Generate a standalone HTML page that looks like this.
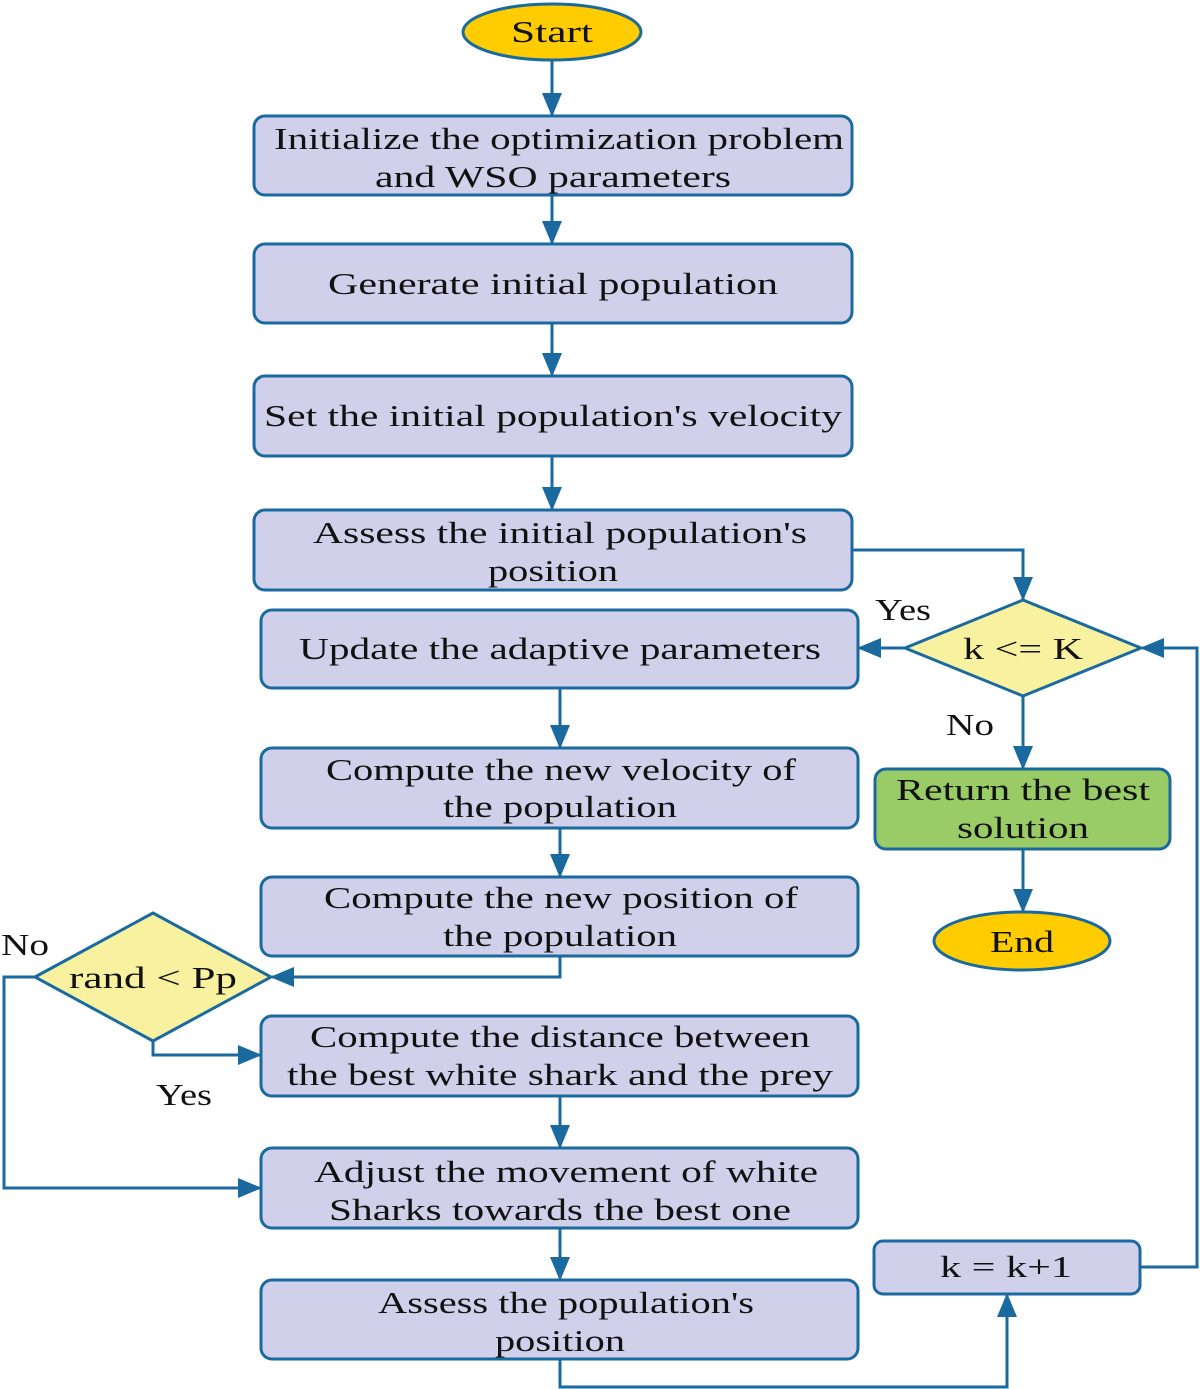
<!DOCTYPE html>
<html><head><meta charset="utf-8"><style>
html,body{margin:0;padding:0;background:#fff;}
svg{display:block;}
text{font-family:"Liberation Serif",serif;font-size:31px;fill:#111;}
</style></head><body>
<svg width="1200" height="1389" viewBox="0 0 1200 1389" xmlns="http://www.w3.org/2000/svg">
<defs>
<marker id="a" markerWidth="24" markerHeight="20" refX="22" refY="10" orient="auto" markerUnits="userSpaceOnUse">
<path d="M0,0 L24,10 L0,20 Z" fill="#1a6aa0"/>
</marker>
</defs>
<g fill="none" stroke="#1a6aa0" stroke-width="3">
<line x1="552" y1="60" x2="552" y2="115" marker-end="url(#a)"/>
<line x1="552" y1="195" x2="552" y2="243" marker-end="url(#a)"/>
<line x1="552" y1="323" x2="552" y2="375" marker-end="url(#a)"/>
<line x1="552" y1="456" x2="552" y2="509" marker-end="url(#a)"/>
<polyline points="852,550 1023,550 1023,599" marker-end="url(#a)"/>
<line x1="905" y1="648" x2="859" y2="648" marker-end="url(#a)"/>
<line x1="1023" y1="696" x2="1023" y2="768" marker-end="url(#a)"/>
<line x1="1023" y1="849" x2="1023" y2="911" marker-end="url(#a)"/>
<line x1="560" y1="688" x2="560" y2="747" marker-end="url(#a)"/>
<line x1="560" y1="828" x2="560" y2="876" marker-end="url(#a)"/>
<polyline points="560,956 560,977 272,977" marker-end="url(#a)"/>
<polyline points="153,1041 153,1055 260,1055" marker-end="url(#a)"/>
<polyline points="35,977 4,977 4,1188 260,1188" marker-end="url(#a)"/>
<line x1="560" y1="1096" x2="560" y2="1147" marker-end="url(#a)"/>
<line x1="560" y1="1228" x2="560" y2="1279" marker-end="url(#a)"/>
<polyline points="560,1359 560,1387 1007,1387 1007,1295" marker-end="url(#a)"/>
<polyline points="1140,1267 1197,1267 1197,648 1142,648" marker-end="url(#a)"/>
</g>
<g stroke="#1a6aa0" stroke-width="3">
<ellipse cx="552" cy="32" rx="89" ry="28" fill="#ffcc00"/>
<rect x="254" y="116" width="598" height="79" rx="11" fill="#d0d0ea"/>
<rect x="254" y="244" width="598" height="79" rx="11" fill="#d0d0ea"/>
<rect x="254" y="376" width="598" height="80" rx="11" fill="#d0d0ea"/>
<rect x="254" y="510" width="598" height="80" rx="11" fill="#d0d0ea"/>
<rect x="261" y="610" width="597" height="78" rx="11" fill="#d0d0ea"/>
<rect x="261" y="748" width="597" height="80" rx="11" fill="#d0d0ea"/>
<rect x="261" y="877" width="597" height="79" rx="11" fill="#d0d0ea"/>
<rect x="261" y="1016" width="597" height="80" rx="11" fill="#d0d0ea"/>
<rect x="261" y="1148" width="597" height="80" rx="11" fill="#d0d0ea"/>
<rect x="261" y="1280" width="597" height="79" rx="11" fill="#d0d0ea"/>
<polygon points="905,648 1023,600 1141,648 1023,696" fill="#f8f2a0"/>
<rect x="875" y="769" width="295" height="80" rx="11" fill="#99cc66"/>
<ellipse cx="1022" cy="941" rx="88" ry="29" fill="#ffcc00"/>
<rect x="874" y="1241" width="266" height="53" rx="9" fill="#d0d0ea"/>
<polygon points="35,977 153,913 271,977 153,1041" fill="#f8f2a0"/>
</g>
<g text-anchor="middle">
<text x="552" y="42" textLength="82" lengthAdjust="spacingAndGlyphs">Start</text>
<text x="559" y="149" textLength="570" lengthAdjust="spacingAndGlyphs">Initialize the optimization problem</text>
<text x="553" y="187" textLength="356" lengthAdjust="spacingAndGlyphs">and WSO parameters</text>
<text x="553" y="294" textLength="450" lengthAdjust="spacingAndGlyphs">Generate  initial population</text>
<text x="553" y="426" textLength="578" lengthAdjust="spacingAndGlyphs">Set the  initial population's velocity</text>
<text x="560" y="543" textLength="494" lengthAdjust="spacingAndGlyphs">Assess the  initial population's</text>
<text x="553" y="581" textLength="130" lengthAdjust="spacingAndGlyphs">position</text>
<text x="560" y="659" textLength="522" lengthAdjust="spacingAndGlyphs">Update the adaptive parameters</text>
<text x="561" y="780" textLength="470" lengthAdjust="spacingAndGlyphs">Compute the new velocity of</text>
<text x="560" y="817" textLength="234" lengthAdjust="spacingAndGlyphs">the population</text>
<text x="561" y="908" textLength="474" lengthAdjust="spacingAndGlyphs">Compute the new position of</text>
<text x="560" y="946" textLength="234" lengthAdjust="spacingAndGlyphs">the population</text>
<text x="560" y="1047" textLength="500" lengthAdjust="spacingAndGlyphs">Compute the distance between</text>
<text x="560" y="1085" textLength="546" lengthAdjust="spacingAndGlyphs">the best white shark and the prey</text>
<text x="566" y="1182" textLength="504" lengthAdjust="spacingAndGlyphs">Adjust the movement of  white</text>
<text x="560" y="1220" textLength="462" lengthAdjust="spacingAndGlyphs">Sharks towards the best one</text>
<text x="566" y="1313" textLength="376" lengthAdjust="spacingAndGlyphs">Assess the population's</text>
<text x="560" y="1351" textLength="130" lengthAdjust="spacingAndGlyphs">position</text>
<text x="1023" y="659" textLength="120" lengthAdjust="spacingAndGlyphs">k &lt;= K</text>
<text x="1023" y="800" textLength="254" lengthAdjust="spacingAndGlyphs">Return the best</text>
<text x="1023" y="838" textLength="132" lengthAdjust="spacingAndGlyphs">solution</text>
<text x="1022" y="952" textLength="64" lengthAdjust="spacingAndGlyphs">End</text>
<text x="1006" y="1277" textLength="132" lengthAdjust="spacingAndGlyphs">k = k+1</text>
<text x="153" y="988" textLength="168" lengthAdjust="spacingAndGlyphs">rand &lt; Pp</text>
<text x="903" y="620" textLength="56" lengthAdjust="spacingAndGlyphs">Yes</text>
<text x="970" y="735" textLength="48" lengthAdjust="spacingAndGlyphs">No</text>
<text x="25" y="955" textLength="48" lengthAdjust="spacingAndGlyphs">No</text>
<text x="184" y="1105" textLength="56" lengthAdjust="spacingAndGlyphs">Yes</text>
</g>
</svg>
</body></html>
